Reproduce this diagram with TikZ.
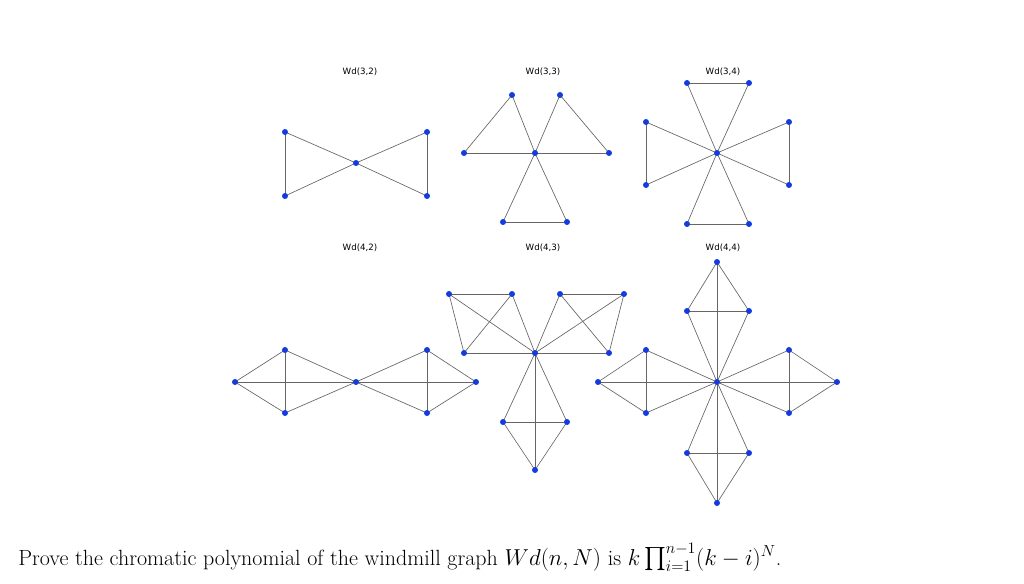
\documentclass[tikz,border=0pt]{standalone}
\usepackage{amsmath}
\usepackage{fontspec}
\newfontfamily\labfont{DejaVu Sans}
\definecolor{vblue}{RGB}{20,60,220}
\begin{document}
\begin{tikzpicture}[x=0.75pt,y=-0.75pt,
 v/.style={circle,fill=vblue,inner sep=0pt,minimum size=4.5pt},
 e/.style={draw=gray!80!black,line width=0.5pt},
 lab/.style={font=\labfont\fontsize{6.5}{7}\selectfont}]
\useasboundingbox (0,0) rectangle (1024,584);
\newcommand{\clq}[1]{\foreach \a/\b in {#1}{\draw[e] (\a)--(\b);}}
% labels
\node[lab] (l1) at (360,72) {Wd(3,2)};
\node[lab] (l2) at (543,72) {Wd(3,3)};
\node[lab] (l3) at (723,72) {Wd(3,4)};
\node[lab] (l4) at (360,248) {Wd(4,2)};
\node[lab] (l5) at (543,248) {Wd(4,3)};
\node[lab] (l6) at (723,248) {Wd(4,4)};
% Wd(3,2)
\foreach \n/\x/\y in {a0/356/163,a1/285/132,a2/285/196,a3/427/132,a4/427/196}{\coordinate (\n) at (\x,\y);}
\clq{a0/a1,a0/a2,a1/a2,a0/a3,a0/a4,a3/a4}
% Wd(3,3)
\foreach \n/\x/\y in {b0/535/153,b1/512/95,b2/560/95,b3/464/153,b4/609/153,b5/503/222,b6/567/222}{\coordinate (\n) at (\x,\y);}
\clq{b0/b1,b0/b3,b1/b3,b0/b2,b0/b4,b2/b4,b0/b5,b0/b6,b5/b6}
% Wd(3,4)
\foreach \n/\x/\y in {c0/717/153,c1/687/83,c2/749/83,c3/646/122,c4/646/185,c5/789/122,c6/789/185,c7/687/224,c8/749/224}{\coordinate (\n) at (\x,\y);}
\clq{c0/c1,c0/c2,c1/c2,c0/c3,c0/c4,c3/c4,c0/c5,c0/c6,c5/c6,c0/c7,c0/c8,c7/c8}
% Wd(4,2)
\foreach \n/\x/\y in {d0/356/382,d1/235/382,d2/285/350,d3/285/413,d4/476/382,d5/427/350,d6/427/413}{\coordinate (\n) at (\x,\y);}
\clq{d0/d1,d0/d2,d0/d3,d1/d2,d1/d3,d2/d3,d0/d4,d0/d5,d0/d6,d4/d5,d4/d6,d5/d6}
% Wd(4,3)
\foreach \n/\x/\y in {f0/535/353,f1/449/294,f2/512/294,f3/464/353,f4/560/294,f5/624/294,f6/609/353,f7/503/422,f8/567/422,f9/535/470}{\coordinate (\n) at (\x,\y);}
\clq{f0/f1,f0/f2,f0/f3,f1/f2,f1/f3,f2/f3,f0/f4,f0/f5,f0/f6,f4/f5,f4/f6,f5/f6,f0/f7,f0/f8,f0/f9,f7/f8,f7/f9,f8/f9}
% Wd(4,4)
\foreach \n/\x/\y in {g0/717/382,g1/717/262,g2/687/311,g3/749/311,g4/598/382,g5/646/350,g6/646/413,g7/837/382,g8/789/350,g9/789/413,g10/717/503,g11/687/453,g12/749/453}{\coordinate (\n) at (\x,\y);}
\clq{g0/g1,g0/g2,g0/g3,g1/g2,g1/g3,g2/g3,g0/g4,g0/g5,g0/g6,g4/g5,g4/g6,g5/g6,g0/g7,g0/g8,g0/g9,g7/g8,g7/g9,g8/g9,g0/g10,g0/g11,g0/g12,g10/g11,g10/g12,g11/g12}
\foreach \n in {a0,a1,a2,a3,a4,b0,b1,b2,b3,b4,b5,b6,c0,c1,c2,c3,c4,c5,c6,c7,c8,d0,d1,d2,d3,d4,d5,d6,f0,f1,f2,f3,f4,f5,f6,f7,f8,f9,g0,g1,g2,g3,g4,g5,g6,g7,g8,g9,g10,g11,g12}{\node[v] at (\n) {};}
\node[anchor=base west,font=\fontsize{16.5}{18}\selectfont,inner sep=0pt] (cap) at (18,565) {Prove the chromatic polynomial of the windmill graph $Wd(n,N)$ is $k\prod_{i=1}^{n-1}(k-i)^N$.};
\end{tikzpicture}
\end{document}
